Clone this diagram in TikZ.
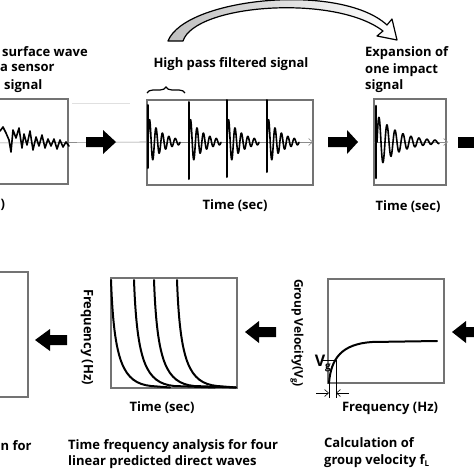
\documentclass[tikz,border=0pt]{standalone}
\usepackage{fontspec}
\setmainfont{Open Sans}
\usetikzlibrary{arrows.meta,decorations.pathreplacing}
\begin{document}
\begin{tikzpicture}[x=1pt,y=-1pt,
  boxframe/.style={draw=black!55, line width=1.1pt},
  lbl/.style={font=\bfseries\fontsize{13}{15}\selectfont, inner sep=0pt},
  wave/.style={line width=1.6pt, line join=round, line cap=round},
  axisline/.style={draw=black!45, line width=0.6pt},
  axistip/.style={-{Straight Barb[length=4pt,width=7pt]}},
  curve/.style={line width=2pt, line cap=round}]
\useasboundingbox (0,0) rectangle (474,474);
\fill[white] (0,0) rectangle (474,474);

% ---------- curved arrow on top ----------
\shadedraw[left color=black!25, middle color=black!85, right color=white, draw=black, line width=1.2pt, line join=round]
  (168,41) .. controls (185,-2) and (340,-18) .. (387,25) -- (392,19) -- (397,40)
  -- (377,36) -- (383,31) .. controls (335,-6) and (195,4) .. (183,41) -- cycle;

% ---------- top row, box 1 (clipped) ----------
\draw[draw=black!12, line width=0.6pt] (72,103) -- (130,103);
\draw[axisline] (-10,143) -- (147,142);
\draw[boxframe] (-10,99) rectangle (68,184);
\draw[wave] (0,131) -- (3,127) -- (6,133) -- (9,140) -- (11,152) -- (13,130) -- (16,138)
  -- (19,128) -- (22,148) -- (24,134) -- (27,145) -- (30,131) -- (33,150) -- (36,137)
  -- (39,146) -- (42,135) -- (45,148) -- (48,139) -- (51,146) -- (54,139) -- (57,149)
  -- (60,140) -- (63,147) -- (66,142) -- (69,146);
\node[lbl, anchor=west] (t1a) at (2,52) {surface wave};
\node[lbl, anchor=west] (t1b) at (0,68) {a sensor};
\node[lbl, anchor=west] (t1c) at (4,86) {signal};
\node[lbl, anchor=west] (t1d) at (0.5,205) {)};

% block arrow 1
\fill (86,137) -- (103,137) -- (103,130) -- (116,142) -- (103,154) -- (103,147) -- (86,147) -- cycle;

% ---------- box 2 ----------
\draw[boxframe] (147,100) rectangle (313,185);
\draw[axisline, axistip] (147,142) -- (313,142);
\foreach \xo/\top/\bot in {148/105/168, 189/102/179, 227/100/177, 267/100/172}{
  \draw[wave, line width=2pt] (\xo,\top) -- (\xo,\bot);
  \draw[wave] plot[domain=0:32, samples=140] ({\xo+\x},{142 - 25*exp(-\x/14)*sin(56*\x)});
}
\draw[decorate, decoration={brace, amplitude=6pt}, line width=1.2pt] (147,93) -- (185,93);
\node[lbl] (t2a) at (231,64) {High pass filtered signal};
\node[lbl] (t2b) at (235,206) {Time (sec)};

% block arrow 2
\fill (328,137) -- (347,137) -- (347,130) -- (358,142) -- (347,154) -- (347,147) -- (328,147) -- cycle;

% ---------- box 3 ----------
\draw[boxframe] (374,99) rectangle (446,185);
\draw[axisline, axistip] (374,142) -- (448,142);
\draw[wave, line width=2.6pt] (376,106) -- (376,178);
\draw[wave] plot[domain=0:62, samples=200] ({377+\x},{142 - 27*exp(-\x/22)*sin(45*\x)});
\node[lbl, anchor=west] (t3a) at (365,53) {Expansion of};
\node[lbl, anchor=west] (t3b) at (365,70) {one impact};
\node[lbl, anchor=west] (t3c) at (365,86) {signal};
\node[lbl] (t3d) at (408,207) {Time (sec)};

% block arrow 3 (clipped)
\fill (458,137) rectangle (480,148);

% ---------- bottom row, left box (clipped) ----------
\draw[boxframe] (-10,272) rectangle (28,397);
\node[lbl, anchor=west] (t4a) at (0.5,446) {n for};
\fill (35,340) -- (50,329) -- (50,335) -- (67,335) -- (67,345) -- (50,345) -- (50,351) -- cycle;

% ---------- time-frequency box ----------
\draw[boxframe] (111,278) rectangle (237,388);
\foreach \xo/\xe in {111/170, 134/215, 154/236, 177/236}{
  \draw[curve] (\xo,280) .. controls (\xo+3,362) and (\xo+12,383) .. (\xo+40,386) -- (\xe,387.5);
}
\node[lbl, rotate=-90] (t5a) at (87,337) {Frequency (Hz)};
\node[lbl] (t5b) at (162,408) {Time (sec)};
\node[lbl, anchor=west] (t5c) at (68,446) {Time frequency analysis for four};
\node[lbl, anchor=west] (t5d) at (68,462) {linear predicted direct waves};
\fill (245,332) -- (259,321) -- (259,327) -- (276,327) -- (276,337) -- (259,337) -- (259,343) -- cycle;

% ---------- group velocity box ----------
\draw[boxframe] (328,279) rectangle (444,383);
\draw[line width=2pt, line cap=round] (329,383) .. controls (331,358) and (342,344) .. (372,342) -- (437,341);
\draw[line width=0.7pt] (322,360) -- (336,360);
\draw[line width=0.7pt] (329,383) -- (329,398);
\draw[line width=0.7pt] (336,360) -- (336,398);
\draw[line width=0.6pt, axistip] (316,393) -- (329,393);
\draw[line width=0.6pt, axistip] (349,393) -- (336,393);
\node[lbl, anchor=east, font=\bfseries\fontsize{16}{16}\selectfont] (vg) at (331,363) {V\raisebox{-3pt}{\fontsize{10}{10}\selectfont g}};
\node[lbl, rotate=-90, font=\bfseries\fontsize{12}{14}\selectfont] (t6a) at (297,333) {Group Velocity(V\raisebox{-2pt}{\fontsize{8}{8}\selectfont g})};
\node[lbl] (t6b) at (390,408) {Frequency (Hz)};
\node[lbl, anchor=west] (t6c) at (324,443) {Calculation of};
\node[lbl, anchor=west] (t6d) at (324,461) {group velocity f\raisebox{-2pt}{\fontsize{8}{8}\selectfont L}};
\fill (452,332) -- (466,321) -- (466,327) -- (480,327) -- (480,337) -- (466,337) -- (466,343) -- cycle;
\end{tikzpicture}
\end{document}
